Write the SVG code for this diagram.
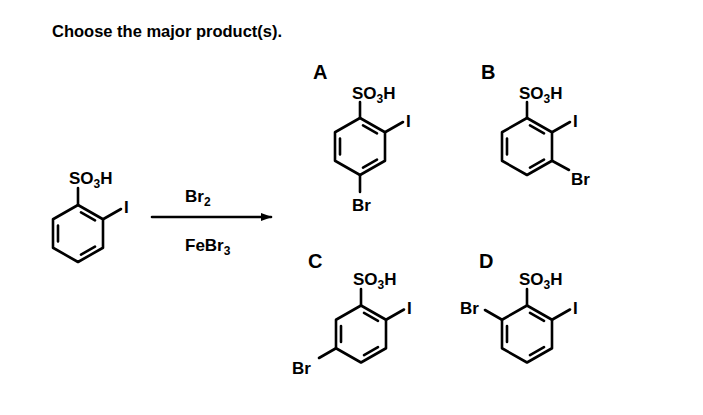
<svg xmlns="http://www.w3.org/2000/svg" width="703" height="415" viewBox="0 0 703 415">
<style>
.b{stroke:#000;stroke-width:2.6;fill:none;stroke-linecap:round;stroke-linejoin:round}
text{font-family:"Liberation Sans",Arial,sans-serif;fill:#000}
.t{font-size:17px;font-weight:bold}
.s{font-size:12px;font-weight:bold}
.L{font-size:20px;font-weight:bold}
</style>
<defs>
<g id="ring" class="b">
<path d="M0,-28.5 L25,-14.25 L25,14.25 L0,28.5 L-25,14.25 L-25,-14.25 Z"/>
<path d="M3,-21.1 L17,-13.1 M-20,-8 L-20,8 M17,13.1 L3,21.1"/>
</g>
<marker id="ah" markerWidth="11" markerHeight="8" refX="10" refY="4" orient="auto" markerUnits="userSpaceOnUse">
<path d="M0,0 L11,4 L0,8 Z" fill="#000"/>
</marker>
</defs>
<rect width="703" height="415" fill="#fff"/>
<text x="52" y="37" style="font-size:16.5px;font-weight:bold">Choose the major product(s).</text>

<g id="start">
<use href="#ring" x="78" y="233.5"/>
<path class="b" d="M78,205 V188 M103,219.25 L121,209"/>
<text class="t" x="69" y="184">SO<tspan class="s" dy="4">3</tspan><tspan dy="-4">H</tspan></text>
<text class="t" x="124" y="213">I</text>
</g>

<g id="connectors">
<path class="b" d="M152,217 H271" marker-end="url(#ah)"/>
</g>
<g id="reagents">
<text class="t" x="185" y="202">Br<tspan class="s" dy="4">2</tspan></text>
<text class="t" x="185" y="251">FeBr<tspan class="s" dy="4">3</tspan></text>
</g>

<g id="A">
<text class="L" x="313" y="79">A</text>
<use href="#ring" x="360" y="146.5"/>
<path class="b" d="M360,118 V102 M385,132.25 L403,122 M360,175 V192"/>
<text class="t" x="352" y="99">SO<tspan class="s" dy="4">3</tspan><tspan dy="-4">H</tspan></text>
<text class="t" x="406" y="127">I</text>
<text class="t" x="352" y="211">Br</text>
</g>

<g id="B">
<text class="L" x="481" y="79">B</text>
<use href="#ring" x="527" y="146.5"/>
<path class="b" d="M527,118 V102 M552,132.25 L570,122 M552,160.75 L569,170"/>
<text class="t" x="519" y="99">SO<tspan class="s" dy="4">3</tspan><tspan dy="-4">H</tspan></text>
<text class="t" x="573" y="127">I</text>
<text class="t" x="571" y="185">Br</text>
</g>

<g id="C">
<text class="L" x="308" y="268">C</text>
<use href="#ring" x="361" y="334"/>
<path class="b" d="M361,305.5 V289 M386,319.75 L404,309.5 M336,348.25 L319,358"/>
<text class="t" x="353" y="285">SO<tspan class="s" dy="4">3</tspan><tspan dy="-4">H</tspan></text>
<text class="t" x="407" y="314">I</text>
<text class="t" x="292" y="374">Br</text>
</g>

<g id="D">
<text class="L" x="479" y="268">D</text>
<use href="#ring" x="527" y="334"/>
<path class="b" d="M527,305.5 V289 M552,319.75 L570,309.5 M502,319.75 L485,310"/>
<text class="t" x="519" y="285">SO<tspan class="s" dy="4">3</tspan><tspan dy="-4">H</tspan></text>
<text class="t" x="573" y="314">I</text>
<text class="t" x="460" y="314">Br</text>
</g>
</svg>
